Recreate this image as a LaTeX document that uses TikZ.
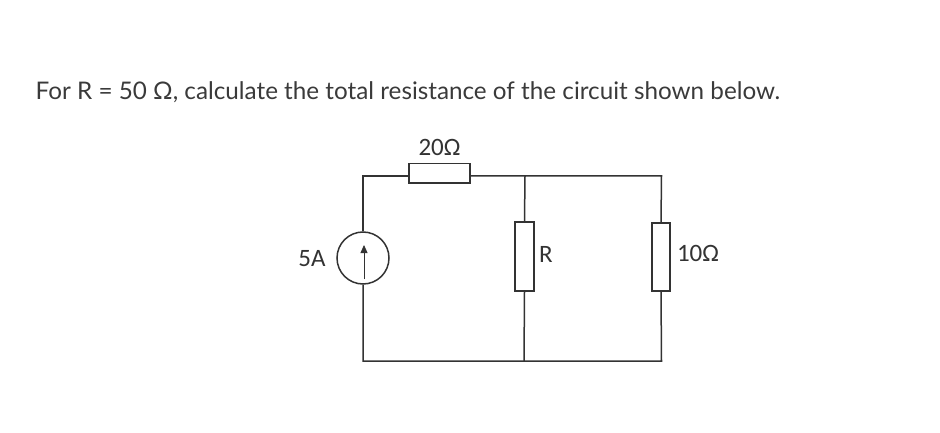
\documentclass[tikz,border=0pt]{standalone}
\usepackage{fontspec}
\usetikzlibrary{arrows.meta}
\setmainfont{Lato}
\newfontfamily\labelfont{Carlito}
\definecolor{wire}{HTML}{333333}
\definecolor{title}{HTML}{3A3A3A}
\tikzset{
	wiring/.style={draw=wire,line width=1.5pt},
	resistor/.style={draw=wire,line width=1.5pt,fill=white,inner sep=0pt},
	valuelabel/.style={text=wire,inner sep=0pt,font=\labelfont\fontsize{25}{29}\selectfont},
}
\begin{document}
\begin{tikzpicture}[x=1pt,y=-1pt]
	\useasboundingbox (0,0) rectangle (940,433);
	\node[text=title,inner sep=0pt,anchor=west,font=\fontsize{24.25}{28}\selectfont] at (35.5,92) (question) {For R = 50 Ω, calculate the total resistance of the circuit shown below.};
	% corners and junctions
	\coordinate (tl_corner) at (363,176);
	\coordinate (tm_junction) at (525,176);
	\coordinate (tr_corner) at (661.5,176);
	\coordinate (bl_corner) at (363,361);
	\coordinate (bm_junction) at (524,361);
	\coordinate (br_corner) at (661.5,361);
	% source and resistors
	\node[circle,draw=wire,line width=1.5pt,minimum size=52pt,inner sep=0pt] at (363,258) (source) {};
	\node[resistor,minimum width=61pt,minimum height=19.5pt] at (439.5,173.5) (r_top) {};
	\node[resistor,minimum width=19pt,minimum height=69pt] at (524.5,256.5) (r_mid) {};
	\node[resistor,minimum width=18pt,minimum height=68pt] at (661,257) (r_right) {};
	% wires
	\draw[wiring] (source.north)--(tl_corner)--(r_top.west |- tl_corner);
	\draw[wiring] (r_top.east |- tm_junction)--(tm_junction)--(tr_corner)--(r_right.north);
	\draw[wiring] (tm_junction)--(r_mid.north);
	\draw[wiring] (source.south)--(bl_corner)--(bm_junction)--(br_corner)--(r_right.south);
	\draw[wiring] (r_mid.south)--(bm_junction);
	% source arrow
	\coordinate (arrow_tail) at (364,279);
	\coordinate (arrow_tip) at (364,245);
	\draw[-{Stealth[length=8pt,width=7pt,inset=0pt]},draw=wire,fill=black,line width=0.8pt] (arrow_tail)--(arrow_tip);
	% values
	\node[valuelabel] at (312,258.5) (source_label) {5A};
	\node[valuelabel] at (439.5,147.5) (r_top_label) {20Ω};
	\node[valuelabel] at (546,254.5) (r_mid_label) {R};
	\node[valuelabel] at (698,253.5) (r_right_label) {10Ω};
\end{tikzpicture}
\end{document}
